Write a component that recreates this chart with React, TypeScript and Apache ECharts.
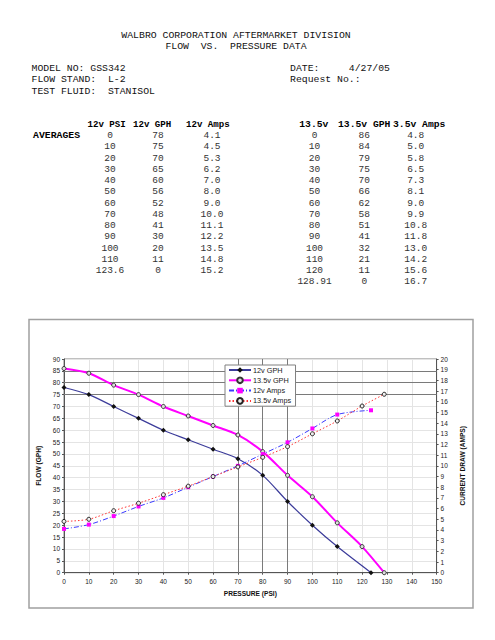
import React, { useEffect, useRef } from "react";
import * as echarts from "echarts";

const psi12 = [0, 10, 20, 30, 40, 50, 60, 70, 80, 90, 100, 110, 123.6];
const gph12 = [78, 75, 70, 65, 60, 56, 52, 48, 41, 30, 20, 11, 0];
const amps12 = [4.1, 4.5, 5.3, 6.2, 7.0, 8.0, 9.0, 10.0, 11.1, 12.2, 13.5, 14.8, 15.2];

const psi135 = [0, 10, 20, 30, 40, 50, 60, 70, 80, 90, 100, 110, 120, 128.91];
const gph135 = [86, 84, 79, 75, 70, 66, 62, 58, 51, 41, 32, 21, 11, 0];
const amps135 = [4.8, 5.0, 5.8, 6.5, 7.3, 8.1, 9.0, 9.9, 10.8, 11.8, 13.0, 14.2, 15.6, 16.7];

const seriesNames = ["12v GPH", "13.5v GPH", "12v Amps", "13.5v Amps"];
const refLinesX = [70, 80, 90];
const refLinesY = [85, 80, 75];

const titleLines = ["WALBRO CORPORATION AFTERMARKET DIVISION", "FLOW  VS.  PRESSURE DATA"];
const infoLeft = ["MODEL NO: GSS342", "FLOW STAND:  L-2", "TEST FLUID:  STANISOL"];
const infoRight = ["DATE:     4/27/05", "Request No.:"];
const headLeft = ["12v PSI", "12v GPH", "12v Amps"];
const headRight = ["13.5v", "13.5v GPH", "3.5v Amps"];

const MONO = "'Liberation Mono', 'DejaVu Sans Mono', monospace";
const SANS = "'Liberation Sans', Arial, sans-serif";

function txt(text: string, x: number, y: number, size: number, opts: any = {}) {
  return {
    type: "text",
    x,
    y,
    silent: true,
    style: {
      text,
      fill: opts.fill || "#111",
      font: `${opts.bold ? "bold " : ""}${size}px ${MONO}`,
      textAlign: opts.align || "left",
      textVerticalAlign: "middle",
      align: opts.align || "left",
      verticalAlign: "middle",
    },
  };
}

export default function App() {
  const ref = useRef<HTMLDivElement>(null);
  useEffect(() => {
    if (!ref.current) return;
    const chart = echarts.init(ref.current, null, { renderer: "svg" });

    const graphics: any[] = [];
    graphics.push({
      type: "rect",
      silent: true,
      shape: { x: 29, y: 319.5, width: 444, height: 288.5 },
      style: { fill: "#fff", stroke: "#a0a0a0", lineWidth: 1.5 },
      z: -10,
    });
    graphics.push(txt(titleLines[0], 236, 35, 9.8, { align: "center" }));
    graphics.push(txt(titleLines[1], 236, 46, 9.8, { align: "center" }));
    infoLeft.forEach((t, i) => graphics.push(txt(t, 31.5, 68.3 + i * 11.5, 9.8)));
    infoRight.forEach((t, i) => graphics.push(txt(t, 290, 68.3 + i * 11.5, 9.8)));

    const hy = 124.3;
    const hLeftX = [87.5, 133, 186];
    headLeft.forEach((t, i) => graphics.push(txt(t, hLeftX[i], hy, 9.1, { bold: true, fill: "#000" })));
    const hRightX = [299.3, 338, 393];
    headRight.forEach((t, i) => graphics.push(txt(t, hRightX[i], hy, 9.7, { bold: true, fill: "#000" })));
    graphics.push(txt("AVERAGES", 33, 135.5, 9.8, { bold: true, fill: "#000" }));

    const rowH = 11.25;
    const y0 = 135.5;
    const dcol = "#333";
    psi12.forEach((p, i) => {
      const y = y0 + i * rowH;
      graphics.push(txt(String(p), 110, y, 9.5, { align: "center", fill: dcol }));
      graphics.push(txt(String(gph12[i]), 158, y, 9.5, { align: "center", fill: dcol }));
      graphics.push(txt(amps12[i].toFixed(1), 212, y, 9.5, { align: "center", fill: dcol }));
    });
    psi135.forEach((p, i) => {
      const y = y0 + i * rowH;
      graphics.push(txt(String(p), 314.5, y, 9.5, { align: "center", fill: dcol }));
      graphics.push(txt(String(gph135[i]), 364.3, y, 9.5, { align: "center", fill: dcol }));
      graphics.push(txt(amps135[i].toFixed(1), 415.7, y, 9.5, { align: "center", fill: dcol }));
    });

    const axisLabel = { fontSize: 6.5, color: "#222", fontFamily: SANS };
    const nameStyle = { fontSize: 6.6, fontWeight: "bold" as const, color: "#111", fontFamily: SANS };

    const option: any = {
      animation: false,
      backgroundColor: "#fff",
      graphic: graphics,
      legend: {
        data: seriesNames,
        orient: "vertical",
        left: 225,
        top: 365,
        itemWidth: 22,
        itemHeight: 7,
        itemGap: 3,
        padding: [1.5, 4, 1.5, 3],
        backgroundColor: "#fff",
        borderColor: "#808080",
        borderWidth: 1,
        borderRadius: 0,
        textStyle: { fontSize: 7.3, color: "#222", fontFamily: SANS, padding: [0, 0, 0, -3] },
        z: 20,
      },
      grid: {
        left: 64,
        top: 359,
        right: 58.4,
        bottom: 67.3,
        show: true,
        borderColor: "#808080",
        borderWidth: 1,
        backgroundColor: "#fff",
        containLabel: false,
        outerBoundsMode: "none",
      },
      xAxis: {
        type: "value",
        min: 0,
        max: 150,
        interval: 10,
        name: "PRESSURE (PSI)",
        nameLocation: "middle",
        nameGap: 17,
        nameTextStyle: nameStyle,
        axisLine: { show: true, lineStyle: { color: "#555", width: 1 } },
        axisTick: { show: true, length: 2, lineStyle: { color: "#555" } },
        axisLabel: { ...axisLabel, margin: 5 },
        splitLine: { show: true, lineStyle: { color: "#e4e4e4", width: 1 } },
      },
      yAxis: [
        {
          type: "value",
          min: 0,
          max: 90,
          interval: 5,
          name: "FLOW (GPH)",
          nameLocation: "middle",
          nameRotate: 90,
          nameGap: 12,
          nameTextStyle: nameStyle,
          axisLine: { show: true, lineStyle: { color: "#555", width: 1 } },
          axisTick: { show: true, length: 2, lineStyle: { color: "#555" } },
          axisLabel: { ...axisLabel, margin: 4 },
          splitLine: { show: true, lineStyle: { color: "#e4e4e4", width: 1 } },
        },
        {
          type: "value",
          min: 0,
          max: 20,
          interval: 1,
          position: "right",
          name: "CURRENT DRAW (AMPS)",
          nameLocation: "middle",
          nameRotate: 90,
          nameGap: 9,
          nameTextStyle: nameStyle,
          axisLine: { show: true, lineStyle: { color: "#555", width: 1 } },
          axisTick: { show: true, length: 2, lineStyle: { color: "#555" } },
          axisLabel: { ...axisLabel, margin: 4 },
          splitLine: { show: false },
        },
      ],
      series: [
        {
          name: seriesNames[0],
          type: "line",
          yAxisIndex: 0,
          smooth: 0.3,
          data: psi12.map((p, i) => [p, gph12[i]]),
          symbol: "diamond",
          symbolSize: 5,
          itemStyle: { color: "#111" },
          lineStyle: { color: "#3c3c9a", width: 1.2 },
          z: 3,
          markLine: {
            silent: true,
            symbol: "none",
            label: { show: false },
            lineStyle: { color: "#7a7a7a", width: 1, type: "solid" },
            data: [
              ...refLinesX.map((v) => ({ xAxis: v })),
              ...refLinesY.map((v) => ({ yAxis: v })),
            ],
            z: 1,
          },
        },
        {
          name: seriesNames[1],
          type: "line",
          yAxisIndex: 0,
          smooth: 0.3,
          data: psi135.map((p, i) => [p, gph135[i]]),
          symbol: "circle",
          symbolSize: 4,
          itemStyle: { color: "#ddd", borderColor: "#333", borderWidth: 1 },
          lineStyle: { color: "#ff00ff", width: 2 },
          z: 3,
        },
        {
          name: seriesNames[2],
          type: "line",
          yAxisIndex: 1,
          smooth: 0.3,
          data: psi12.map((p, i) => [p, amps12[i]]),
          symbol: "rect",
          symbolSize: 4,
          itemStyle: { color: "#ff00ff" },
          lineStyle: { color: "#3a3aff", width: 1, type: [5, 2, 1, 2] },
          z: 3,
        },
        {
          name: seriesNames[3],
          type: "line",
          yAxisIndex: 1,
          smooth: 0.3,
          data: psi135.map((p, i) => [p, amps135[i]]),
          symbol: "circle",
          symbolSize: 4,
          itemStyle: { color: "#eee", borderColor: "#222", borderWidth: 1 },
          lineStyle: { color: "#ff3333", width: 1, type: [1.5, 2] },
          z: 3,
        },
      ],
    };
    chart.setOption(option);
    return () => chart.dispose();
  }, []);

  return (
    <div
      ref={ref}
      style={{ position: "absolute", left: 0, top: 0, width: 495, height: 640, background: "#fff" }}
    />
  );
}
